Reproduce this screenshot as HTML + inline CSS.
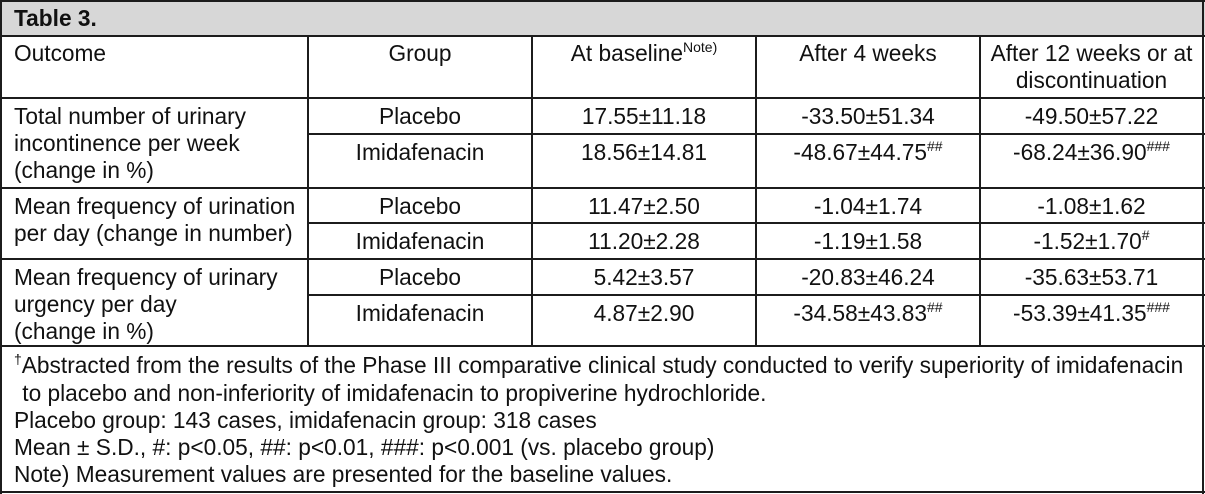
<!DOCTYPE html>
<html>
<head>
<meta charset="utf-8">
<style>
html,body{margin:0;padding:0;background:#fff;}
#c{position:relative;width:1205px;height:494px;overflow:hidden;background:#fff;font-family:"Liberation Sans",Arial,sans-serif;font-size:22.7px;line-height:27px;color:#111;}
.h{position:absolute;background:#1c1c1c;height:2px;}
.v{position:absolute;background:#1c1c1c;width:2px;}
.t{position:absolute;white-space:nowrap;}
.cc{position:absolute;text-align:center;white-space:nowrap;}
.sp{font-size:14px;position:relative;top:-9px;line-height:0;}
</style>
</head>
<body>
<div id="c">
  <!-- title bar -->
  <div style="position:absolute;left:0;top:0;width:1205px;height:36px;background:#d7d7d7;"></div>
  <div class="t" style="left:14px;top:5px;font-weight:bold;">Table 3.</div>

  <!-- outer border -->
  <div class="h" style="left:0;top:0;width:1205px;"></div>
  <div class="h" style="left:0;top:491px;width:1205px;"></div>
  <div class="v" style="left:0;top:0;height:494px;"></div>
  <div class="v" style="left:1202px;top:0;height:494px;"></div>

  <!-- horizontal lines -->
  <div class="h" style="left:0;top:35px;width:1205px;"></div>
  <div class="h" style="left:0;top:97px;width:1205px;"></div>
  <div class="h" style="left:307px;top:133px;width:898px;"></div>
  <div class="h" style="left:0;top:187px;width:1205px;"></div>
  <div class="h" style="left:307px;top:222px;width:898px;"></div>
  <div class="h" style="left:0;top:258px;width:1205px;"></div>
  <div class="h" style="left:307px;top:294px;width:898px;"></div>
  <div class="h" style="left:0;top:345px;width:1205px;"></div>

  <!-- vertical lines -->
  <div class="v" style="left:307px;top:35px;height:311px;"></div>
  <div class="v" style="left:531px;top:35px;height:311px;"></div>
  <div class="v" style="left:755px;top:35px;height:311px;"></div>
  <div class="v" style="left:979px;top:35px;height:311px;"></div>

  <!-- header -->
  <div class="t" style="left:14px;top:40px;">Outcome</div>
  <div class="cc" style="left:309px;width:222px;top:40px;">Group</div>
  <div class="cc" style="left:533px;width:222px;top:40px;">At baseline<span class="sp">Note)</span></div>
  <div class="cc" style="left:757px;width:222px;top:40px;">After 4 weeks</div>
  <div class="cc" style="left:981px;width:221px;top:40px;">After 12 weeks or at<br>discontinuation</div>

  <!-- group 1 -->
  <div class="t" style="left:14px;top:103px;">Total number of urinary<br>incontinence per week<br>(change in %)</div>
  <div class="cc" style="left:309px;width:222px;top:103px;">Placebo</div>
  <div class="cc" style="left:533px;width:222px;top:103px;">17.55±11.18</div>
  <div class="cc" style="left:757px;width:222px;top:103px;">-33.50±51.34</div>
  <div class="cc" style="left:981px;width:221px;top:103px;">-49.50±57.22</div>
  <div class="cc" style="left:309px;width:222px;top:139px;">Imidafenacin</div>
  <div class="cc" style="left:533px;width:222px;top:139px;">18.56±14.81</div>
  <div class="cc" style="left:757px;width:222px;top:139px;">-48.67±44.75<span class="sp">##</span></div>
  <div class="cc" style="left:981px;width:221px;top:139px;">-68.24±36.90<span class="sp">###</span></div>

  <!-- group 2 -->
  <div class="t" style="left:14px;top:193px;">Mean frequency of urination<br>per day (change in number)</div>
  <div class="cc" style="left:309px;width:222px;top:193px;">Placebo</div>
  <div class="cc" style="left:533px;width:222px;top:193px;">11.47±2.50</div>
  <div class="cc" style="left:757px;width:222px;top:193px;">-1.04±1.74</div>
  <div class="cc" style="left:981px;width:221px;top:193px;">-1.08±1.62</div>
  <div class="cc" style="left:309px;width:222px;top:228px;">Imidafenacin</div>
  <div class="cc" style="left:533px;width:222px;top:228px;">11.20±2.28</div>
  <div class="cc" style="left:757px;width:222px;top:228px;">-1.19±1.58</div>
  <div class="cc" style="left:981px;width:221px;top:228px;">-1.52±1.70<span class="sp">#</span></div>

  <!-- group 3 -->
  <div class="t" style="left:14px;top:264px;">Mean frequency of urinary<br>urgency per day<br>(change in %)</div>
  <div class="cc" style="left:309px;width:222px;top:264px;">Placebo</div>
  <div class="cc" style="left:533px;width:222px;top:264px;">5.42±3.57</div>
  <div class="cc" style="left:757px;width:222px;top:264px;">-20.83±46.24</div>
  <div class="cc" style="left:981px;width:221px;top:264px;">-35.63±53.71</div>
  <div class="cc" style="left:309px;width:222px;top:300px;">Imidafenacin</div>
  <div class="cc" style="left:533px;width:222px;top:300px;">4.87±2.90</div>
  <div class="cc" style="left:757px;width:222px;top:300px;">-34.58±43.83<span class="sp">##</span></div>
  <div class="cc" style="left:981px;width:221px;top:300px;">-53.39±41.35<span class="sp">###</span></div>

  <!-- footnotes -->
  <div class="t" style="left:14px;top:352px;"><span class="sp">†</span>Abstracted from the results of the Phase III comparative clinical study conducted to verify superiority of imidafenacin</div>
  <div class="t" style="left:16px;top:380px;">&nbsp;to placebo and non-inferiority of imidafenacin to propiverine hydrochloride.</div>
  <div class="t" style="left:14px;top:407px;">Placebo group: 143 cases, imidafenacin group: 318 cases</div>
  <div class="t" style="left:14px;top:434px;">Mean ± S.D., #: p&lt;0.05, ##: p&lt;0.01, ###: p&lt;0.001 (vs. placebo group)</div>
  <div class="t" style="left:14px;top:461px;">Note) Measurement values are presented for the baseline values.</div>
</div>
</body>
</html>
